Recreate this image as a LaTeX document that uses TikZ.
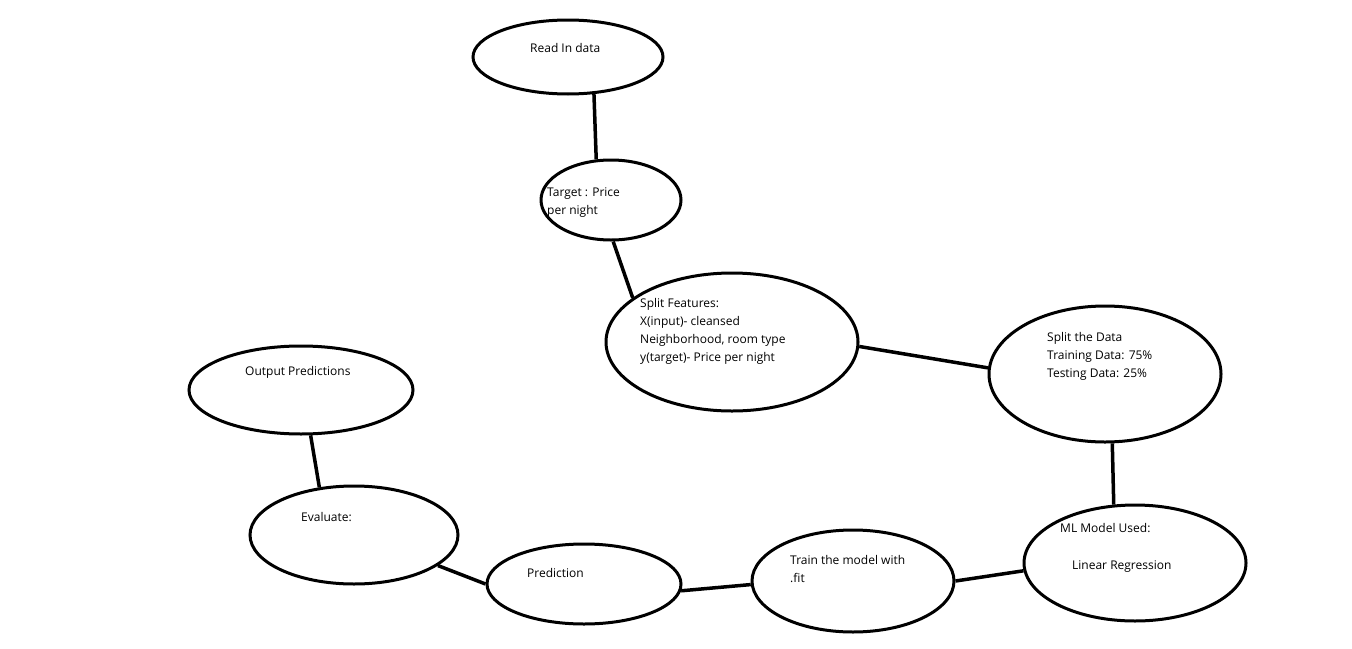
\documentclass[tikz,border=0pt]{standalone}
\usepackage{fontspec}
\setmainfont{Open Sans}
\usetikzlibrary{shapes.geometric}
\begin{document}
\begin{tikzpicture}[x=1pt,y=-1pt,
  ell/.style={draw,ellipse,line width=3pt,inner sep=0pt},
  txt/.style={anchor=north west,inner sep=0pt,align=left,font=\fontsize{12}{18}\selectfont},
  con/.style={line width=3.5pt}]
\useasboundingbox (0,0) rectangle (1352,648);
\node[ell,minimum width=190pt,minimum height=74pt] (read) at (568,57) {};
\node[ell,minimum width=140pt,minimum height=80pt] (target) at (611,200) {};
\node[ell,minimum width=252pt,minimum height=138pt] (feat) at (732,342) {};
\node[ell,minimum width=232pt,minimum height=136pt] (split) at (1105,374) {};
\node[ell,minimum width=222pt,minimum height=116pt] (ml) at (1135,563) {};
\node[ell,minimum width=202pt,minimum height=102pt] (train) at (853,581) {};
\node[ell,minimum width=194pt,minimum height=80pt] (pred) at (584,584) {};
\node[ell,minimum width=208pt,minimum height=98pt] (eval) at (354,535) {};
\node[ell,minimum width=224pt,minimum height=88pt] (out) at (301,390) {};
\node[txt] (t1) at (530,43) {Read In data};
\node[txt] (t2) at (547,187) {Target : Price\\per night};
\node[txt] (t3) at (640,298) {Split Features:\\X(input)- cleansed\\Neighborhood, room type\\y(target)- Price per night};
\node[txt] (t4) at (1047,332) {Split the Data\\Training Data: 75\%\\Testing Data: 25\%};
\node[txt] (t5) at (1060,523) {ML Model Used:\\[19pt]\hspace*{12pt}Linear Regression};
\node[txt] (t6) at (790,555) {Train the model with\\.fit};
\node[txt] (t7) at (527,568) {Prediction};
\node[txt] (t8) at (301,512) {Evaluate:};
\node[txt] (t9) at (245,366) {Output Predictions};
\draw[con] (read.-55) -- (target.110);
\draw[con] (target.-87) -- (feat.156);
\draw[con] (feat.-2) -- (split.177);
\draw[con] (split.-84) -- (ml.110);
\draw[con] (ml.184) -- (train.0);
\draw[con] (train.182) -- (pred.-4);
\draw[con] (pred.180) -- (eval.-20);
\draw[con] (eval.126) -- (out.-78);
\end{tikzpicture}
\end{document}
